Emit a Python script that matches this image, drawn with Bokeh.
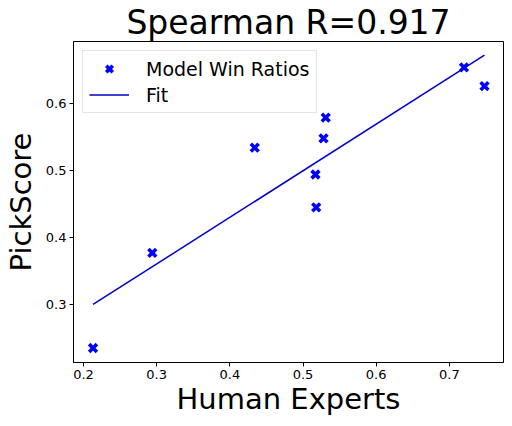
from bokeh.plotting import figure
from bokeh.models import Range1d, FixedTicker, Legend, LegendItem
from bokeh.embed import file_html
from bokeh.resources import INLINE

human_experts = [0.213, 0.294, 0.434, 0.517, 0.518, 0.528, 0.531, 0.720, 0.748]
pickscore = [0.235, 0.377, 0.534, 0.494, 0.445, 0.548, 0.579, 0.654, 0.626]
fit_x = [0.213, 0.748]
fit_y = [0.300, 0.672]
x_ticks = [0.2, 0.3, 0.4, 0.5, 0.6, 0.7]
y_ticks = [0.3, 0.4, 0.5, 0.6]
title_text = "Spearman R=0.917"

FONT = "DejaVu Sans"

p = figure(frame_width=430, frame_height=321, output_backend="svg", toolbar_location=None,
           x_range=Range1d(0.1863, 0.774), y_range=Range1d(0.2134, 0.6925),
           min_border_left=68, min_border_right=5, min_border_top=33, min_border_bottom=50)

p.title.text = title_text
p.title.text_font = FONT
p.title.text_font_size = "33px"
p.title.text_font_style = "normal"
p.title.text_color = "black"
p.title.text_line_height = 0.9
p.title.align = "center"
p.title.standoff = 0
p.title.offset = 0

p.xgrid.visible = False
p.ygrid.visible = False
p.outline_line_color = "black"
p.outline_line_width = 1
p.outline_line_alpha = 1

for ax in (p.xaxis[0], p.yaxis[0]):
    ax.axis_line_color = "black"
    ax.major_tick_line_color = "black"
    ax.major_tick_in = 0
    ax.major_tick_out = 4
    ax.minor_tick_line_color = None
    ax.major_label_text_font = FONT
    ax.major_label_text_font_size = "13px"
    ax.major_label_text_color = "black"
    ax.major_label_text_line_height = 1.0
    ax.major_label_standoff = 3
    ax.axis_label_text_font = FONT
    ax.axis_label_text_font_size = "29px"
    ax.axis_label_text_font_style = "normal"
    ax.axis_label_text_color = "black"
    ax.axis_label_text_line_height = 1.0
    ax.axis_label_standoff = 0

p.yaxis.axis_label_standoff = 5
p.xaxis.ticker = FixedTicker(ticks=x_ticks)
p.yaxis.ticker = FixedTicker(ticks=y_ticks)
p.xaxis.axis_label = "Human Experts"
p.yaxis.axis_label = "PickScore"

fit_r = p.line(fit_x, fit_y, line_color="#0000cd", line_width=1.5)
pts_r = p.scatter(human_experts, pickscore, marker="x", size=11,
                  line_color="#0000ff", line_width=3.6)

legend = Legend(items=[LegendItem(label="Model Win Ratios", renderers=[pts_r]),
                       LegendItem(label="Fit", renderers=[fit_r])],
                location="top_left")
legend.label_text_font = FONT
legend.label_text_font_size = "19px"
legend.label_text_color = "black"
legend.glyph_width = 40
legend.glyph_height = 23
legend.label_height = 23
legend.label_standoff = 17
legend.padding = 6
legend.spacing = 3
legend.margin = 9
legend.border_line_color = "#cccccc"
legend.border_line_width = 1
legend.background_fill_alpha = 0.8
p.add_layout(legend, "center")

open("out.html", "w").write(file_html(p, INLINE))
